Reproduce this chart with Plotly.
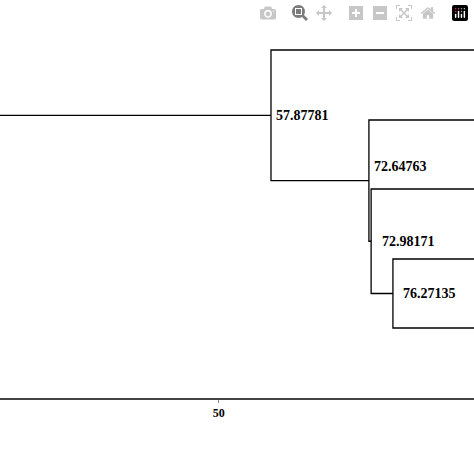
import plotly.graph_objects as go

# leaf vertical positions (display order, top to bottom) and leaf height
leaf_pos = [50, 120, 189, 259, 328]
leaf_x = 100
# merges: (child_a, child_b, similarity); children are leaf indices or "n<k>"
merges = [
    (3, 4, 76.27135),
    (2, "n0", 72.98171),
    (1, "n1", 72.64763),
    (0, "n2", 57.87781),
]
root_start = 0
node_labels = ["76.27135", "72.98171", "72.64763", "57.87781"]

fig = go.Figure()
nodes = []
def pos(c):
    if isinstance(c, int):
        return leaf_x, leaf_pos[c]
    return nodes[int(c[1:])]

xs, ys = [], []
for a, b, h in merges:
    xa, ya = pos(a)
    xb, yb = pos(b)
    xs += [xa, h, h, xb, None]
    ys += [ya, ya, yb, yb, None]
    nodes.append((h, (ya + yb) / 2))
rx, ry = nodes[-1]
xs += [root_start, rx, None]
ys += [ry, ry, None]
fig.add_trace(go.Scatter(x=xs, y=ys, mode="lines", line=dict(color="black", width=1.3),
                         hoverinfo="skip", showlegend=False))

offsets = [(1.2, 0), (1.4, 0), (0.4, -5), (0.5, 0)]
for (h, y), lab, (dx, dy) in zip(nodes, node_labels, offsets):
    fig.add_annotation(x=h + dx, y=y + dy, text="<b>" + lab + "</b>", showarrow=False,
                       xanchor="left", yanchor="middle" if dy == 0 else "bottom",
                       font=dict(family="Liberation Serif", size=14, color="black"))

fig.update_layout(
    width=474, height=474, plot_bgcolor="white", paper_bgcolor="white",
    margin=dict(l=0, r=0, t=0, b=76),
    xaxis=dict(range=[17, 88.5], tickvals=[50], ticktext=["<b>50</b>"], showgrid=False,
               zeroline=False, showline=True, linecolor="#444", linewidth=2,
               ticks="outside", ticklen=3, tickcolor="#888",
               tickfont=dict(family="Liberation Serif", size=12, color="black")),
    yaxis=dict(range=[398, 0], visible=False, showgrid=False, zeroline=False),
)
fig.write_html("out.html", post_script="document.body.style.margin='0';")
